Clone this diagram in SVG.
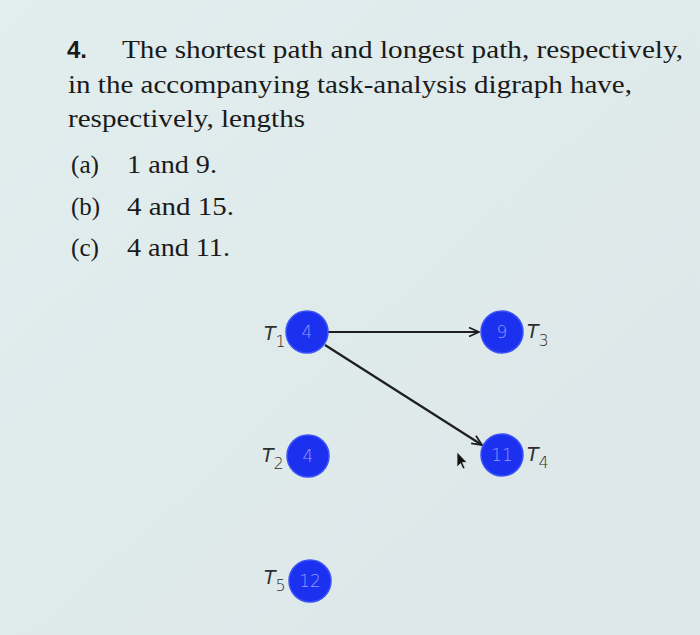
<svg xmlns="http://www.w3.org/2000/svg" width="700" height="635" viewBox="0 0 700 635">
<defs>
<linearGradient id="bg" x1="0" y1="0" x2="1" y2="1">
<stop offset="0" stop-color="#e1eeee"/>
<stop offset="1" stop-color="#dde6e8"/>
</linearGradient>
<marker id="arr" viewBox="0 0 12 12" refX="11" refY="6" markerWidth="12" markerHeight="12" markerUnits="userSpaceOnUse" orient="auto">
<path d="M1,1.5 L11,6 L1,10.5" fill="none" stroke="#1e1e1e" stroke-width="1.8"/>
</marker>
<style>
.q{font-family:"Liberation Serif","DejaVu Serif",serif;font-size:26px;fill:#1a1a1a}
.b{font-family:"Liberation Sans",Arial,sans-serif;font-weight:bold;font-size:24px;fill:#1a1a1a}
.node{fill:#1c30f0;stroke:#3a52f6;stroke-width:1.5}
.num{font-family:"DejaVu Sans","Liberation Sans",sans-serif;font-size:17px;font-weight:300;fill:#8f9bff;text-anchor:middle}
.lab{font-family:"DejaVu Sans","Liberation Sans",sans-serif;font-size:19px;fill:#2e2e2e;font-style:italic;font-weight:300}
.sub{font-size:16px;font-style:normal}
.edge{stroke:#1e1e1e;stroke-width:2.2;fill:none}
</style>
</defs>
<rect width="700" height="635" fill="url(#bg)"/>
<g id="question">
<text class="b" x="67" y="58">4.</text>
<text class="q" x="122" y="58" textLength="561" lengthAdjust="spacingAndGlyphs">The shortest path and longest path, respectively,</text>
<text class="q" x="68" y="93" textLength="564" lengthAdjust="spacingAndGlyphs">in the accompanying task-analysis digraph have,</text>
<text class="q" x="68" y="127" textLength="237" lengthAdjust="spacingAndGlyphs">respectively, lengths</text>
<text class="q" x="71" y="173" textLength="28" lengthAdjust="spacingAndGlyphs">(a)</text>
<text class="q" x="127" y="173" textLength="90" lengthAdjust="spacingAndGlyphs">1 and 9.</text>
<text class="q" x="71" y="215" textLength="29" lengthAdjust="spacingAndGlyphs">(b)</text>
<text class="q" x="127" y="215" textLength="107" lengthAdjust="spacingAndGlyphs">4 and 15.</text>
<text class="q" x="71" y="256" textLength="28" lengthAdjust="spacingAndGlyphs">(c)</text>
<text class="q" x="127" y="256" textLength="103" lengthAdjust="spacingAndGlyphs">4 and 11.</text>
</g>
<g id="connectors">
<line class="edge" x1="328" y1="332" x2="479" y2="332" marker-end="url(#arr)"/>
<line class="edge" x1="325" y1="345" x2="482" y2="445" marker-end="url(#arr)"/>
</g>
<g id="T1">
<circle class="node" cx="307" cy="332" r="21"/>
<text class="num" x="307" y="338">4</text>
<text class="lab" x="264" y="340">T<tspan class="sub" dy="7">1</tspan></text>
</g>
<g id="T3">
<circle class="node" cx="502" cy="332" r="21"/>
<text class="num" x="502" y="338">9</text>
<text class="lab" x="527" y="338">T<tspan class="sub" dy="8">3</tspan></text>
</g>
<g id="T2">
<circle class="node" cx="308" cy="456" r="21"/>
<text class="num" x="308" y="462">4</text>
<text class="lab" x="262" y="462">T<tspan class="sub" dy="7">2</tspan></text>
</g>
<g id="T4">
<circle class="node" cx="502" cy="455" r="21"/>
<text class="num" x="502" y="461">11</text>
<text class="lab" x="527" y="461">T<tspan class="sub" dy="7">4</tspan></text>
</g>
<g id="T5">
<circle class="node" cx="310" cy="581" r="21"/>
<text class="num" x="310" y="587">12</text>
<text class="lab" x="264" y="584">T<tspan class="sub" dy="7">5</tspan></text>
</g>
<g id="cursor">
<path d="M457,452 L457,467 L460.5,463.5 L463,469 L465,468 L462.5,462.5 L467,462.5 Z" fill="#111" stroke="#ddd" stroke-width="0.8"/>
</g>
</svg>
